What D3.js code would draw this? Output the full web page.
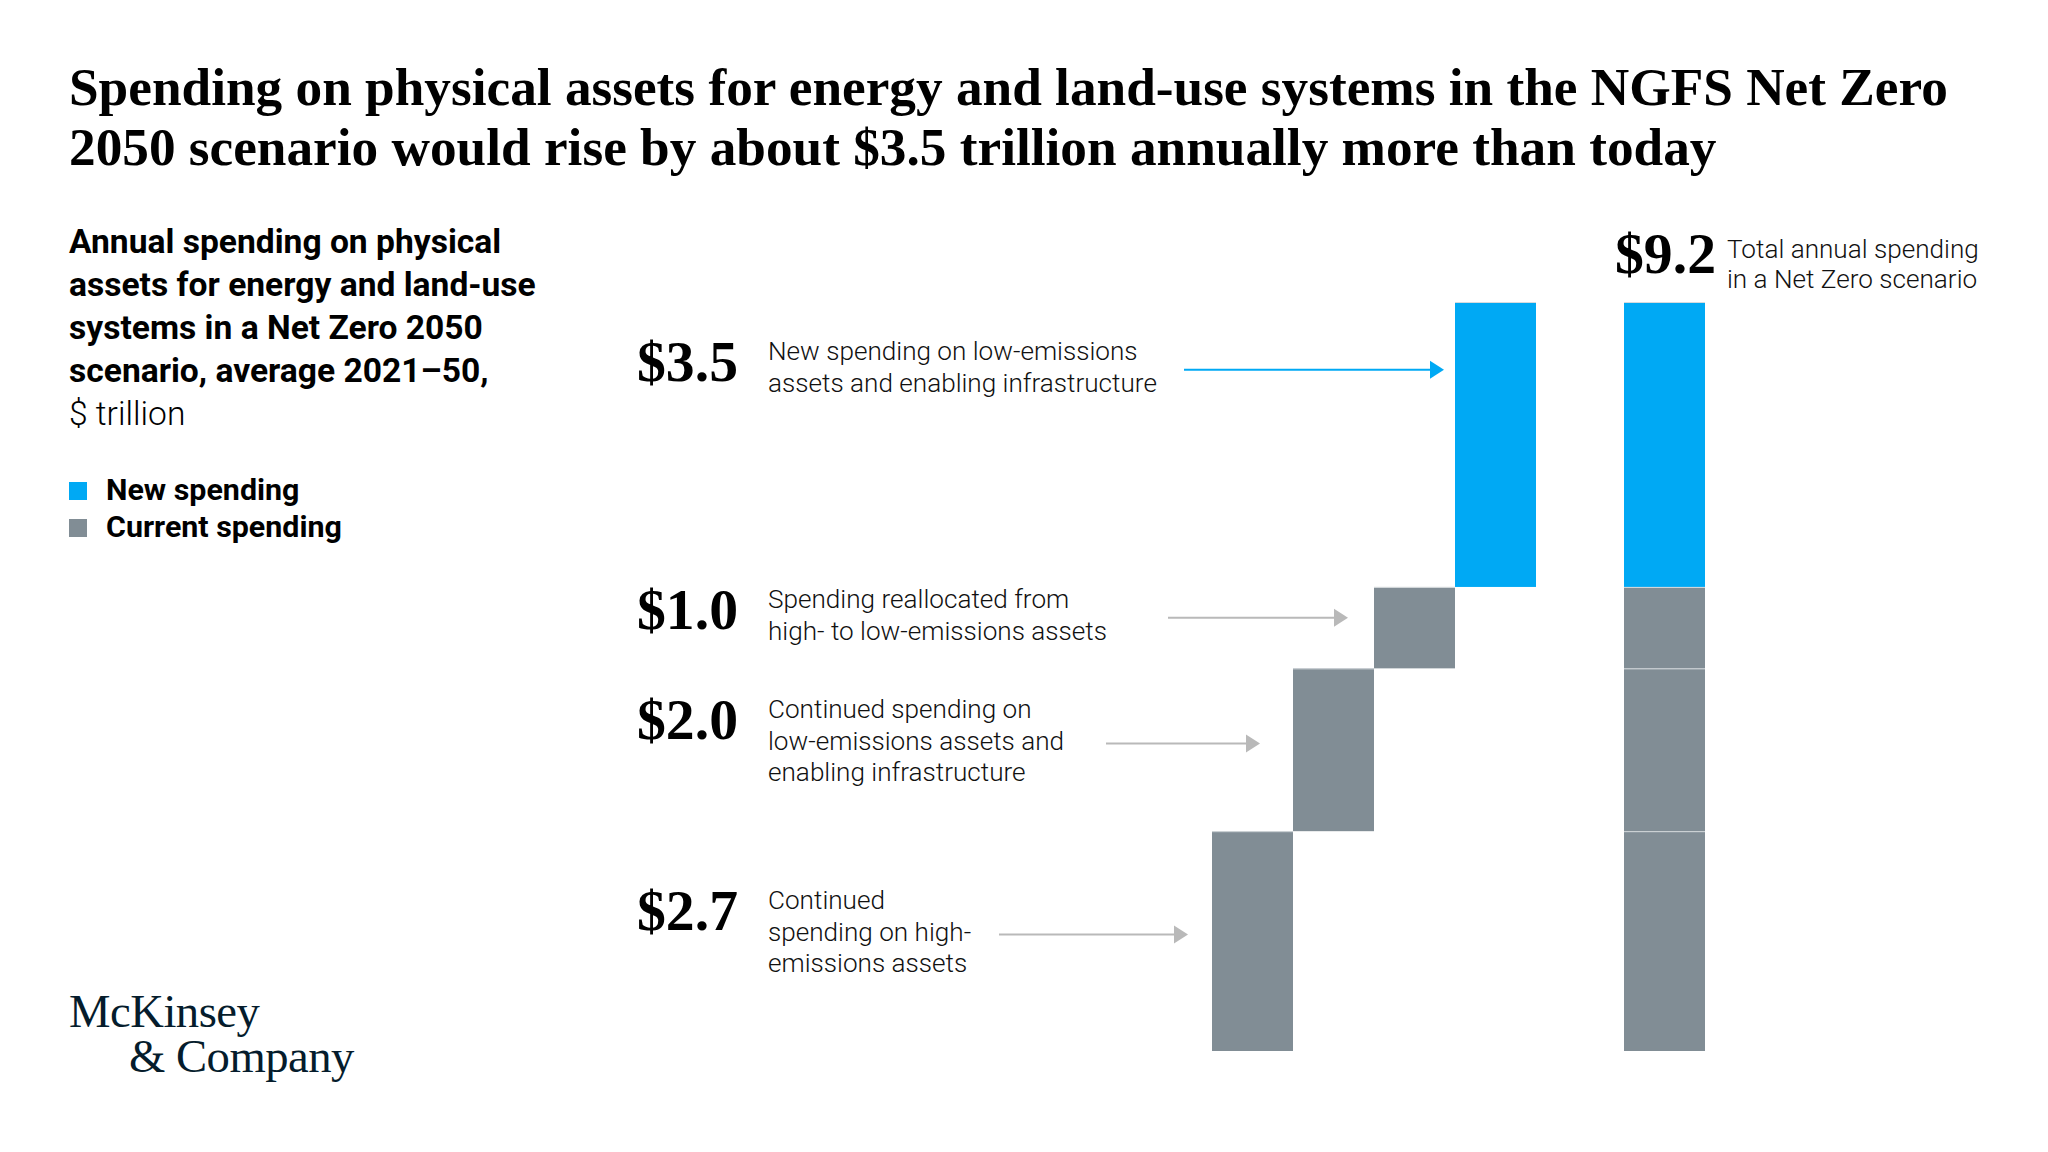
<!DOCTYPE html>
<html>
<head>
<meta charset="utf-8">
<script src="https://cdn.jsdelivr.net/npm/d3@7"></script>
<style>
  html, body { margin: 0; padding: 0; background: #fff; }
  svg { display: block; }
</style>
</head>
<body>
<svg id="chart" width="2048" height="1152"></svg>
<script>
// ---------------- DATA ----------------
const titleLines = [
  "Spending on physical assets for energy and land-use systems in the NGFS Net Zero",
  "2050 scenario would rise by about $3.5 trillion annually more than today"
];
const subtitleLines = [
  "Annual spending on physical",
  "assets for energy and land-use",
  "systems in a Net Zero 2050",
  "scenario, average 2021\u201350,"
];
const unitLabel = "$ trillion";
const legendKeys = ["New spending", "Current spending"];
const legendTypes = ["new", "current"];

// waterfall steps, bottom to top
const steps = ["highContinued", "lowContinued", "reallocated", "newSpending"];
const stepValues = [2.7, 2.0, 1.0, 3.5];
const stepTypes = ["current", "current", "current", "new"];
const stepLabels = ["$2.7", "$2.0", "$1.0", "$3.5"];
const stepDescriptions = [
  ["Continued", "spending on high-", "emissions assets"],
  ["Continued spending on", "low-emissions assets and", "enabling infrastructure"],
  ["Spending reallocated from", "high- to low-emissions assets"],
  ["New spending on low-emissions", "assets and enabling infrastructure"]
];
const totalValue = 9.2;
const totalLabel = "$9.2";
const totalDescription = ["Total annual spending", "in a Net Zero scenario"];
const logoLines = ["McKinsey", "& Company"];

// ---------------- LAYOUT / STYLE ----------------
const colors = { new: "#00A9F4", current: "#818D95" };
const arrowColors = { new: "#00A9F4", current: "#B9B9B9" };
const labelFirstBaseline = [909, 718, 608, 360];   // y of first description line
const arrowStartX = [999, 1106, 1168, 1184];
const arrowGap = [24, 33, 26, 11];

const svg = d3.select("#chart");

function fitGroup(texts, refNode, target) {
  const fs = parseFloat(d3.select(refNode).attr("font-size"));
  const w = refNode.getComputedTextLength();
  const nfs = fs * target / w;
  texts.attr("font-size", nfs);
  return nfs;
}

// ---------------- TITLE ----------------
const serif = "'Liberation Serif', 'Times New Roman', serif";
const sans = "Roboto, 'Noto Sans', Arial, sans-serif";

const title = svg.append("g").selectAll("text").data(titleLines).join("text")
  .attr("x", 69)
  .attr("y", (d, i) => 105 + i * 60)
  .attr("font-family", serif)
  .attr("font-weight", "bold")
  .attr("font-size", 48)
  .attr("fill", "#000")
  .text(d => d);
fitGroup(title, title.nodes()[0], 1879);

// ---------------- SUBTITLE ----------------
const sub = svg.append("g").selectAll("text").data(subtitleLines).join("text")
  .attr("x", 69)
  .attr("y", (d, i) => 253 + i * 43)
  .attr("font-family", sans)
  .attr("font-weight", 700)
  .attr("font-size", 30)
  .attr("fill", "#000")
  .text(d => d);
const subFs = fitGroup(sub, sub.nodes()[1], 467);

svg.append("text")
  .attr("x", 69).attr("y", 253 + 4 * 43)
  .attr("font-family", sans)
  .attr("font-weight", 300)
  .attr("font-size", subFs)
  .attr("fill", "#000")
  .text(unitLabel);

// ---------------- LEGEND ----------------
const legend = svg.append("g").selectAll("g").data(legendKeys).join("g")
  .attr("transform", (d, i) => `translate(69, ${482 + i * 37})`);
legend.append("rect")
  .attr("width", 18).attr("height", 18)
  .attr("fill", (d, i) => colors[legendTypes[i]]);
const legText = legend.append("text")
  .attr("x", 37).attr("y", 18)
  .attr("font-family", sans)
  .attr("font-weight", 700)
  .attr("font-size", 28)
  .attr("fill", "#000")
  .text(d => d);
fitGroup(legText, legText.nodes()[1], 236);

// ---------------- SCALES ----------------
const y = d3.scaleLinear().domain([0, totalValue]).range([1051, 302]);
const x = d3.scaleBand().domain(steps).range([1212, 1536]).paddingInner(0).paddingOuter(0);
const totalX = 1624;

const cum = [];
let acc = 0;
stepValues.forEach(v => { cum.push(acc); acc += v; });

// ---------------- WATERFALL BARS ----------------
const bars = svg.append("g");
bars.selectAll("rect.step").data(steps).join("rect")
  .attr("class", "step")
  .attr("x", d => x(d))
  .attr("width", x.bandwidth())
  .attr("y", (d, i) => y(cum[i] + stepValues[i]))
  .attr("height", (d, i) => y(cum[i]) - y(cum[i] + stepValues[i]))
  .attr("fill", (d, i) => colors[stepTypes[i]]);

// total stacked bar
bars.selectAll("rect.total").data(steps).join("rect")
  .attr("class", "total")
  .attr("x", totalX)
  .attr("width", x.bandwidth())
  .attr("y", (d, i) => y(cum[i] + stepValues[i]))
  .attr("height", (d, i) => y(cum[i]) - y(cum[i] + stepValues[i]))
  .attr("fill", (d, i) => colors[stepTypes[i]]);

// thin light separators at segment tops
bars.selectAll("line.sepStep").data(steps).join("line")
  .attr("x1", d => x(d)).attr("x2", d => x(d) + x.bandwidth())
  .attr("y1", (d, i) => y(cum[i] + stepValues[i]) + 0.5)
  .attr("y2", (d, i) => y(cum[i] + stepValues[i]) + 0.5)
  .attr("stroke", "#d6dbde").attr("stroke-width", 1);
bars.selectAll("line.sepTotal").data(steps).join("line")
  .attr("x1", totalX).attr("x2", totalX + x.bandwidth())
  .attr("y1", (d, i) => y(cum[i] + stepValues[i]) + 0.5)
  .attr("y2", (d, i) => y(cum[i] + stepValues[i]) + 0.5)
  .attr("stroke", "#d6dbde").attr("stroke-width", 1);

// ---------------- LABELS ----------------
const labels = svg.append("g").selectAll("g").data(steps).join("g");

const valTexts = labels.append("text")
  .attr("x", 637)
  .attr("y", (d, i) => labelFirstBaseline[i] + 21)
  .attr("font-family", serif)
  .attr("font-weight", "bold")
  .attr("font-size", 52)
  .attr("fill", "#000")
  .text((d, i) => stepLabels[i]);
const valFs = fitGroup(valTexts, valTexts.nodes()[3], 101);

labels.each(function(d, i) {
  d3.select(this).selectAll("text.desc").data(stepDescriptions[i]).join("text")
    .attr("class", "desc")
    .attr("x", 768)
    .attr("y", (t, j) => labelFirstBaseline[i] + j * 31.5)
    .attr("font-family", sans)
    .attr("font-weight", 300)
    .attr("font-size", 24)
    .attr("fill", "#111")
    .text(t => t);
});
const allDesc = svg.selectAll("text.desc");
const refDesc = allDesc.filter(t => t === "assets and enabling infrastructure").node();
const descFs = fitGroup(allDesc, refDesc, 389);

// arrows
labels.each(function(d, i) {
  const g = d3.select(this);
  const lines = stepDescriptions[i].length;
  const ay = labelFirstBaseline[i] + (lines - 1) * 31.5 / 2 - 6;
  const tip = x(d) - arrowGap[i];
  const c = arrowColors[stepTypes[i]];
  g.append("line")
    .attr("x1", arrowStartX[i]).attr("x2", tip - 12)
    .attr("y1", ay).attr("y2", ay)
    .attr("stroke", c).attr("stroke-width", 2);
  g.append("path")
    .attr("d", `M${tip - 14},${ay - 9}L${tip},${ay}L${tip - 14},${ay + 9}Z`)
    .attr("fill", c);
});

// total label
svg.append("text")
  .attr("x", 1615).attr("y", 273)
  .attr("font-family", serif)
  .attr("font-weight", "bold")
  .attr("font-size", valFs)
  .attr("fill", "#000")
  .text(totalLabel);
svg.append("g").selectAll("text").data(totalDescription).join("text")
  .attr("x", 1727)
  .attr("y", (d, i) => 258 + i * 29.5)
  .attr("font-family", sans)
  .attr("font-weight", 300)
  .attr("font-size", descFs)
  .attr("fill", "#111")
  .text(d => d);

// ---------------- LOGO ----------------
const logo = svg.append("g").selectAll("text").data(logoLines).join("text")
  .attr("x", (d, i) => i === 0 ? 69 : 129)
  .attr("y", (d, i) => i === 0 ? 1027 : 1072)
  .attr("font-family", serif)
  .attr("font-size", 42)
  .attr("fill", "#051C2C")
  .attr("letter-spacing", -0.5)
  .text(d => d);
fitGroup(logo, logo.nodes()[0], 190);
</script>
</body>
</html>
